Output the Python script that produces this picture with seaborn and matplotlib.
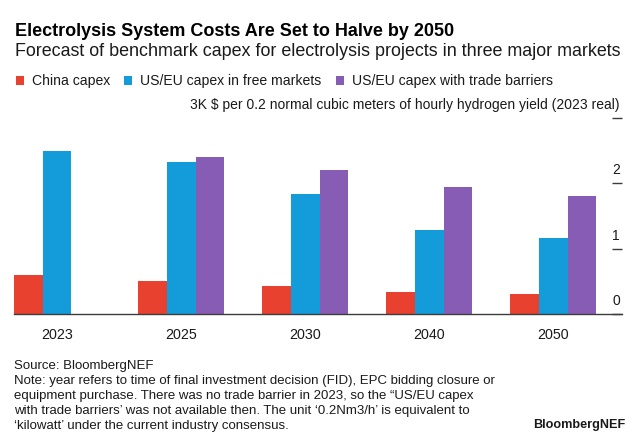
import numpy as np
import pandas as pd
import matplotlib
matplotlib.use("Agg")
import matplotlib.pyplot as plt
import matplotlib.transforms as mtransforms
from matplotlib.patches import Patch
import seaborn as sns

# ---------------- data ----------------
categories = ["2023", "2025", "2030", "2040", "2050"]
china_capex = [0.59, 0.51, 0.43, 0.34, 0.30]
useu_free_markets = [2.50, 2.32, 1.84, 1.29, 1.17]
useu_trade_barriers = [np.nan, 2.41, 2.21, 1.95, 1.80]
series_names = ["China capex", "US/EU capex in free markets",
                "US/EU capex with trade barriers"]
series_colors = ["#E8412F", "#149BDA", "#875CB5"]
ytick_values = [0, 1, 2, 3]
ytick_labels = ["0", "1", "2",
                "3K $ per 0.2 normal cubic meters of hourly hydrogen yield (2023 real)"]

title = "Electrolysis System Costs Are Set to Halve by 2050"
subtitle = "Forecast of benchmark capex for electrolysis projects in three major markets"
source = "Source: BloombergNEF"
note_lines = [
    "Note: year refers to time of final investment decision (FID), EPC bidding closure or",
    "equipment purchase. There was no trade barrier in 2023, so the \u201cUS/EU capex",
    "with trade barriers\u2019 was not available then. The unit \u20180.2Nm3/h\u2019 is equivalent to",
    "\u2018kilowatt\u2019 under the current industry consensus.",
]
logo = "BloombergNEF"

# ---------------- style ----------------
sns.set_theme(style="white")
plt.rcParams["font.family"] = ["Liberation Sans", "DejaVu Sans"]
TXT = "#1a1a1a"
AXC = "#3c3c3c"

df = pd.DataFrame({
    "year": categories * 3,
    "series": np.repeat(series_names, len(categories)),
    "value": china_capex + useu_free_markets + useu_trade_barriers,
})

W, H = 640, 444
fig = plt.figure(figsize=(W / 100, H / 100), dpi=100)
renderer = fig.canvas.get_renderer()


def fy(px):
    return (H - px) / H


def fit(t, target_px):
    w = t.get_window_extent(renderer).width
    t.set_fontsize(t.get_fontsize() * target_px / w)
    return t.get_fontsize()


ax = fig.add_axes([14 / W, fy(314), (622 - 14) / W, (314 - 118) / H])
sns.barplot(data=df, x="year", y="value", hue="series", hue_order=series_names,
            palette=series_colors, width=0.7, saturation=1, errorbar=None,
            legend=False, linewidth=0, edgecolor="none", ax=ax)
ax.set_xlim(-0.347, 4.556)
ax.set_ylim(0, 3)
ax.set_xlabel("")
ax.set_ylabel("")
for s in ["top", "left", "right"]:
    ax.spines[s].set_visible(False)
ax.spines["bottom"].set_color(AXC)
ax.spines["bottom"].set_linewidth(1.0)
ax.spines["bottom"].set_zorder(5)
ax.tick_params(axis="x", length=3, width=1, color=AXC, labelsize=10.3,
               labelcolor=TXT, pad=7)
ax.set_yticks(ytick_values)
ax.yaxis.tick_right()
ax.tick_params(axis="y", direction="in", length=7, width=1, color=AXC,
               labelright=False, labelleft=False)

# y tick labels above tick lines, right aligned
lab_tr = mtransforms.blended_transform_factory(ax.transAxes, ax.transData) + \
    mtransforms.ScaledTranslation(-0.02, 0.09, fig.dpi_scale_trans)
ylabs = []
for v, lab in zip(ytick_values, ytick_labels):
    ylabs.append(ax.text(1, v, lab, transform=lab_tr, ha="right", va="baseline",
                         fontsize=10, color=TXT))
fs_unit = fit(ylabs[-1], 430)
for t in ylabs:
    t.set_fontsize(fs_unit)

# title & subtitle
t1 = fig.text(15 / W, fy(36), title, fontsize=12, fontweight="bold",
              color="#000000", ha="left", va="baseline")
fit(t1, 437)
t2 = fig.text(15 / W, fy(56), subtitle, fontsize=12, color=TXT,
              ha="left", va="baseline")
fit(t2, 605)

# legend
tmp = fig.text(0, 0, series_names[0], fontsize=10)
fs_leg = fit(tmp, 78)
tmp.remove()
em = fs_leg * 100 / 72
handles = [Patch(facecolor=c, edgecolor="none") for c in series_colors]
fig.legend(handles, series_names, loc="center left",
           bbox_to_anchor=(16 / W, fy(81.5)), ncol=3, frameon=False,
           fontsize=fs_leg, handlelength=8 / em, handleheight=8 / em,
           handletextpad=8 / em, columnspacing=14 / em, borderpad=0,
           borderaxespad=0, labelcolor=TXT)

# footnotes
t_src = fig.text(14 / W, fy(369), source, fontsize=10, color=TXT,
                 ha="left", va="baseline")
notes = []
for i, line in enumerate(note_lines):
    notes.append(fig.text(14 / W, fy(384 + 15 * i), line, fontsize=10,
                          color=TXT, ha="left", va="baseline"))
fs_note = fit(notes[0], 486)
for t in notes:
    t.set_fontsize(fs_note)
t_src.set_fontsize(fs_note)

t_logo = fig.text(625 / W, fy(428), logo, fontsize=10, fontweight="bold",
                  color=TXT, ha="right", va="baseline")
fit(t_logo, 92)

fig.savefig("out.png", dpi=100, facecolor="white")
